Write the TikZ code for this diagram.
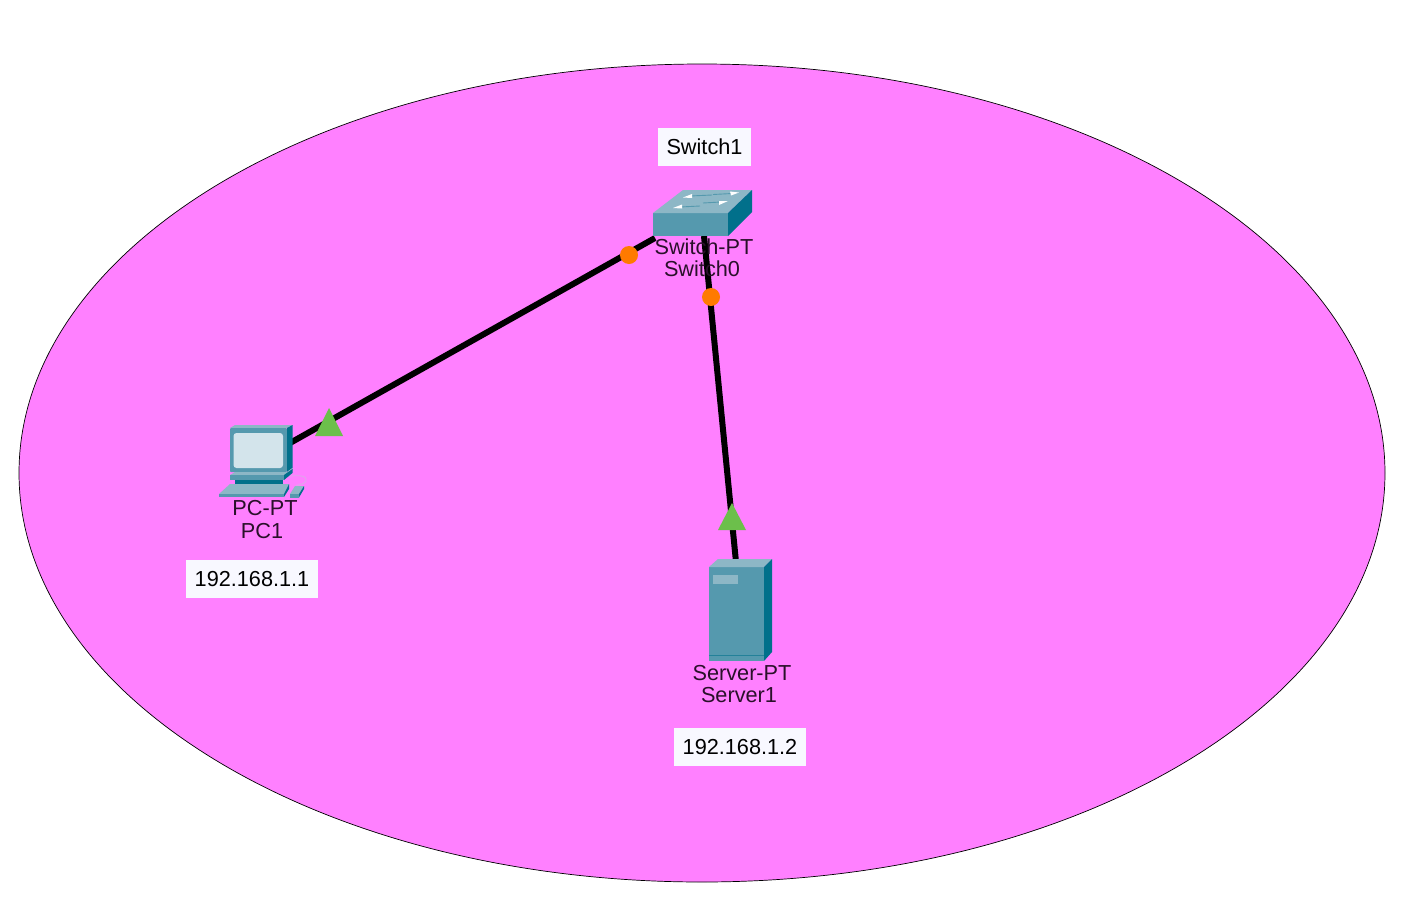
\documentclass[tikz,border=0pt]{standalone}
\usepackage{fontspec}
\usetikzlibrary{shapes.geometric}
\setmainfont{Liberation Sans}
\definecolor{zone}{HTML}{FF80FF}
\definecolor{tealA}{HTML}{5599AE}
\definecolor{tealB}{HTML}{8DB7C6}
\definecolor{tealC}{HTML}{01708B}
\definecolor{screenc}{HTML}{D3E4EB}
\definecolor{labelbg}{HTML}{F8F8FF}
\definecolor{devtext}{HTML}{2A102A}
\definecolor{orangeM}{HTML}{FF7A00}
\definecolor{greenM}{HTML}{6CBF4B}
\definecolor{cablec}{HTML}{DDA8EA}
\tikzset{
  x=1pt,y=-1pt,
  link/.style={line width=6pt,draw=black},
  up/.style={circle,fill=orangeM,inner sep=0pt,minimum size=18pt},
  notebox/.style={fill=labelbg,inner sep=0pt,minimum height=38pt,font=\fontsize{21.7}{24}\selectfont,text=black},
  devlabel/.style={inner sep=0pt,font=\fontsize{21.7}{24}\selectfont,text=devtext},
  front/.style={fill=tealA},
  topf/.style={fill=tealB},
  sidef/.style={fill=tealC},
}
\begin{document}
\begin{tikzpicture}
\useasboundingbox (0,0) rectangle (1406,916);
\fill[white] (0,0) rectangle (1406,916);
\node[ellipse,draw=black,line width=0.7pt,fill=zone,inner sep=0pt,minimum width=1366pt,minimum height=818pt] (zonearea) at (702,473) {};
% connector end points
\coordinate (swA) at (655,238);
\coordinate (swB) at (704,236);
\coordinate (pcport) at (290,443);
\coordinate (srvport) at (736,562);
\draw[link] (swA) -- (pcport);
\draw[link] (swB) -- (srvport);
% switch
\path[front] (653,213) rectangle (728,236);
\path[topf] (653,213) -- (683,190) -- (752,190) -- (728,213) -- cycle;
\path[sidef] (728,213) -- (752,190) -- (752,212) -- (728,236) -- cycle;
\draw[tealA,line width=0.9pt] (690,196) -- (712,195) (713,194.5) -- (732,193.5) (680,207) -- (700,206) (703,203) -- (721,202);
\fill[white] (683,197.5) -- (692,194) -- (692,198) -- cycle;
\fill[white] (739,192.5) -- (730,191.5) -- (731,195.5) -- cycle;
\fill[white] (673,208) -- (682,204.5) -- (682,208.5) -- cycle;
\fill[white] (728,201) -- (719,201) -- (719,205) -- cycle;
% pc
\draw[draw=cablec,line width=0.8pt] (290,476) .. controls (300,475) and (308,476) .. (306,481) .. controls (304,485) and (298,484) .. (296,486);
\path[topf] (230,428) -- (235,425) -- (292.5,425) -- (287,428) -- cycle;
\path[front,rounded corners=1pt] (230,428) rectangle (287,472);
\path[sidef] (287,428) -- (292.5,425) -- (292.5,468) -- (287,472) -- cycle;
\fill[screenc,rounded corners=3pt] (233.5,433) rectangle (283,468);
\path[topf] (230,475) -- (235,472) -- (287,472) -- (292.5,468) -- (292.5,470) -- (284,475) -- cycle;
\path[front] (230,475) rectangle (284,480);
\path[sidef] (284,475) -- (292.5,469) -- (292.5,473) -- (284,480) -- cycle;
\path[sidef] (235,480) rectangle (283,484);
\path[topf] (219,494) -- (230,484) -- (289,484) -- (284,494) -- cycle;
\path[front] (219,494) rectangle (284,497);
\path[sidef] (284,494) -- (289,484) -- (289,489) -- (284,497) -- cycle;
\path[topf] (290,494) -- (295,486) -- (304,486) -- (299,494) -- cycle;
\path[front] (290,494) rectangle (299,497.5);
\path[sidef] (299,494) -- (304,486) -- (304,489) -- (299,497.5) -- cycle;
% server
\path[front] (709,567) rectangle (764,661);
\path[topf] (709,567) -- (718,559) -- (772,559) -- (764,567) -- cycle;
\path[sidef] (764,567) -- (772,559) -- (772,652) -- (764,661) -- cycle;
\fill[topf] (713,574.5) rectangle (738,584);
\draw[tealC!60!tealA,line width=0.6pt] (709,655) -- (764,655);
% status markers
\node[up] (mA) at (629,255) {};
\node[up] (mB) at (711,297) {};
\coordinate (tA) at (329,422);
\coordinate (tB) at (732,516.5);
\fill[greenM] (tA) +(-14,14) -- +(0,-14) -- +(14,14) -- cycle;
\fill[greenM] (tB) +(-14,13.5) -- +(0,-13.5) -- +(14,13.5) -- cycle;
% device labels
\node[devlabel] (swtype) at (704,247) {Switch-PT};
\node[devlabel] (swname) at (702,269) {Switch0};
\node[devlabel] (pctype) at (265,508) {PC-PT};
\node[devlabel] (pcname) at (262,531) {PC1};
\node[devlabel] (srvtype) at (742,673) {Server-PT};
\node[devlabel] (srvname) at (739,695) {Server1};
% notes
\node[notebox,minimum width=93pt] (noteA) at (704.5,147) {\raisebox{1pt}{Switch1}};
\node[notebox,minimum width=132pt] (noteB) at (252,579) {\raisebox{1pt}{192.168.1.1}};
\node[notebox,minimum width=132pt] (noteC) at (740,747) {\raisebox{1pt}{192.168.1.2}};
\end{tikzpicture}
\end{document}
